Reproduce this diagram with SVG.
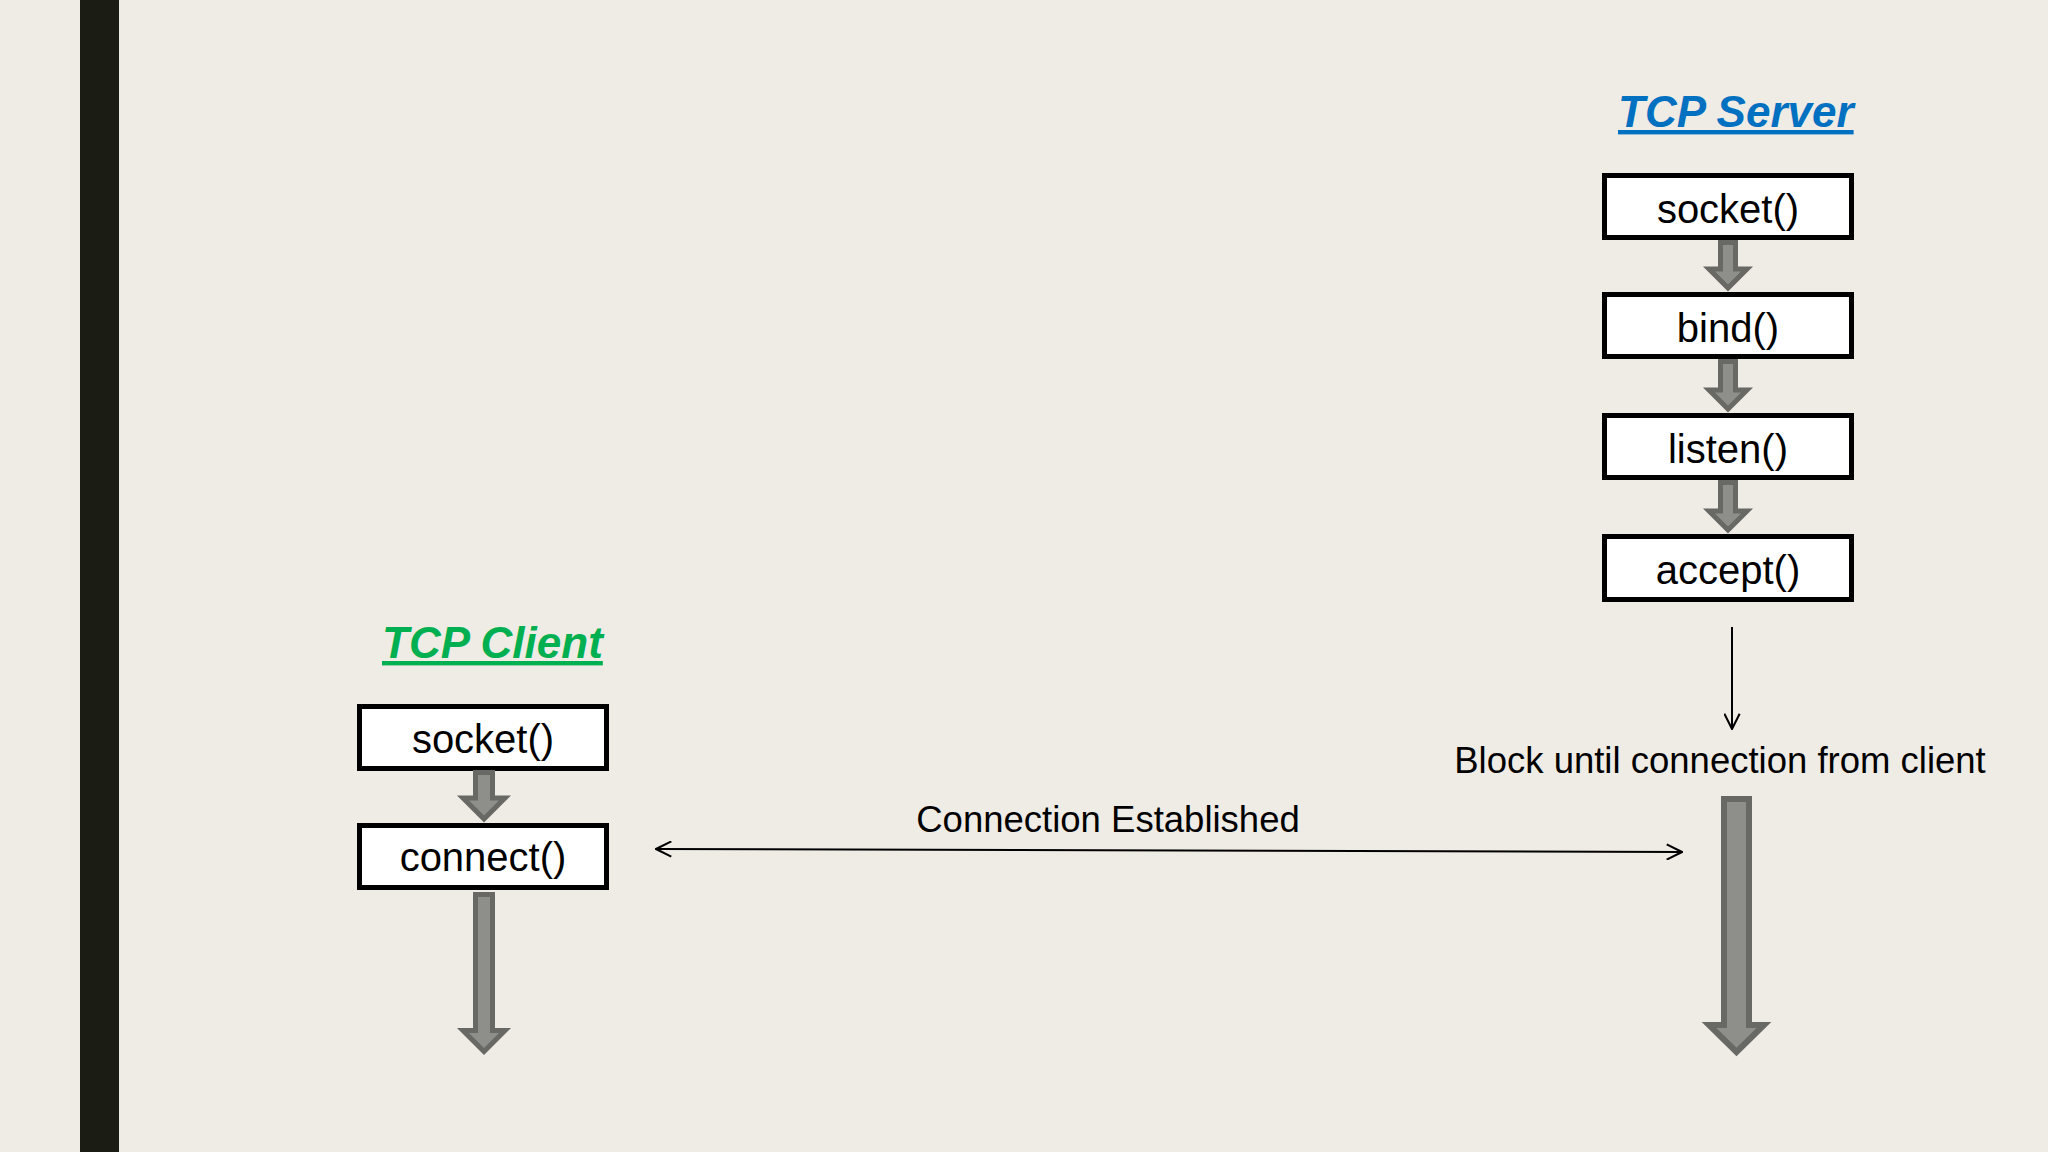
<svg xmlns="http://www.w3.org/2000/svg" width="2048" height="1152" viewBox="0 0 2048 1152">
<defs>
<style>
.box{fill:#ffffff;stroke:#000000;stroke-width:5}
.lbl{font-family:"Liberation Sans",Arial,sans-serif;font-size:40px;fill:#000;text-anchor:middle}
.txt{font-family:"Liberation Sans",Arial,sans-serif;font-size:36.5px;fill:#000}
.title{font-family:"Liberation Sans",Arial,sans-serif;font-size:44px;font-style:italic;font-weight:bold;text-decoration:underline}
.blk{fill:#8e8e8a;stroke:#686864;stroke-linejoin:miter;stroke-miterlimit:4}
.thin{fill:none;stroke:#000;stroke-width:2}
</style>
<marker id="open" viewBox="0 0 20 20" refX="19" refY="10" markerWidth="17" markerHeight="17" markerUnits="userSpaceOnUse" orient="auto-start-reverse">
<path d="M1,1 L19,10 L1,19" fill="none" stroke="#000" stroke-width="2.4"/>
</marker>
</defs>
<rect x="0" y="0" width="2048" height="1152" fill="#EFEBE5"/>
<rect x="80" y="0" width="39" height="1152" fill="#1B1D14"/>

<g id="server-title"><text class="title" x="1618" y="127" fill="#0070C0">TCP Server</text></g>
<g id="client-title"><text class="title" x="382" y="658" fill="#00B050">TCP Client</text></g>

<g id="server-socket"><rect class="box" x="1604.5" y="175.5" width="247" height="62"/><text class="lbl" x="1728" y="223">socket()</text></g>
<g id="server-bind"><rect class="box" x="1604.5" y="294.5" width="247" height="62"/><text class="lbl" x="1728" y="342">bind()</text></g>
<g id="server-listen"><rect class="box" x="1604.5" y="415.5" width="247" height="62"/><text class="lbl" x="1728" y="463">listen()</text></g>
<g id="server-accept"><rect class="box" x="1604.5" y="536.5" width="247" height="63"/><text class="lbl" x="1728" y="584">accept()</text></g>

<g id="client-socket"><rect class="box" x="359.5" y="706.5" width="247" height="62"/><text class="lbl" x="483" y="753">socket()</text></g>
<g id="client-connect"><rect class="box" x="359.5" y="825.5" width="247" height="62"/><text class="lbl" x="483" y="871">connect()</text></g>

<g id="block-label"><text class="txt" x="1720" y="773" text-anchor="middle">Block until connection from client</text></g>
<g id="conn-label"><text class="txt" x="1108" y="832" text-anchor="middle">Connection Established</text></g>

<g id="connectors">
<polygon class="blk" stroke-width="5" points="1720.5,242.5 1735.5,242.5 1735.5,269 1747,269 1728,288 1709,269 1720.5,269"/>
<polygon class="blk" stroke-width="5" points="1720.5,361.5 1735.5,361.5 1735.5,390 1747,390 1728,409 1709,390 1720.5,390"/>
<polygon class="blk" stroke-width="5" points="1720.5,482.5 1735.5,482.5 1735.5,511 1747,511 1728,530 1709,511 1720.5,511"/>
<polygon class="blk" stroke-width="5" points="475.5,772.5 492.5,772.5 492.5,798 505,798 484,819 463,798 475.5,798"/>
<polygon class="blk" stroke-width="5" points="475.5,894.5 492.5,894.5 492.5,1030.5 505,1030.5 484,1051.5 463,1030.5 475.5,1030.5"/>
<polygon class="blk" stroke-width="6" points="1724,799 1749,799 1749,1025 1764,1025 1736.5,1052 1709,1025 1724,1025"/>
<line class="thin" x1="1732" y1="627" x2="1732" y2="729" marker-end="url(#open)"/>
<line class="thin" x1="656" y1="849" x2="1682" y2="852" marker-start="url(#open)" marker-end="url(#open)"/>
</g>
</svg>
